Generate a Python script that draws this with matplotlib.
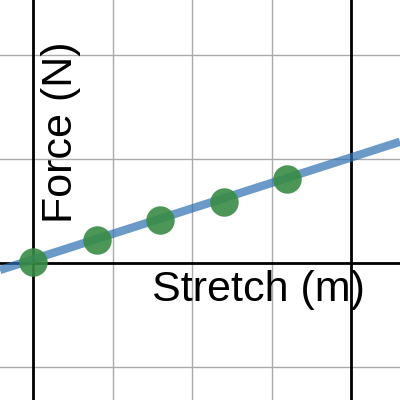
import matplotlib
matplotlib.use("Agg")
import matplotlib.pyplot as plt
import numpy as np

stretch = [0.0, 0.2, 0.4, 0.6, 0.8]
force = [0.05, 1.1, 2.05, 2.95, 4.05]
fit_slope = 4.9
fit_intercept = 0.17

fig = plt.figure(figsize=(4, 4), dpi=100)
ax = fig.add_axes([0, 0, 1, 1])
xlim = (-0.104, 1.154)
ylim = (-6.59, 12.64)
ax.set_xlim(xlim); ax.set_ylim(ylim)
for gx in np.arange(-0.0, 1.2, 0.25):
    ax.axvline(gx, color='#aaaaaa', lw=1, zorder=0)
for gy in [-5, 5, 10]:
    ax.axhline(gy, color='#aaaaaa', lw=1, zorder=0)
ax.axvline(0, color='black', lw=2, zorder=1)
ax.axvline(1, color='black', lw=2, zorder=1)
ax.axhline(0, color='black', lw=2, zorder=1)
xs = np.array(xlim)
ax.plot(xs, fit_intercept + fit_slope * xs, color='#2d70b3', alpha=0.7, lw=6, zorder=2, solid_capstyle='butt')
ax.scatter(stretch, force, s=420, color='#388c46', alpha=0.9, zorder=3, linewidths=0)
ax.text(0.708, -1.3, 'Stretch (m)', fontsize=31, family='Liberation Sans', ha='center', va='center', zorder=4)
ax.text(0.088, 6.3, 'Force (N)', fontsize=31, family='Liberation Sans', rotation=90, ha='center', va='center', zorder=4)
ax.axis('off')
fig.savefig('out.png', dpi=100)
